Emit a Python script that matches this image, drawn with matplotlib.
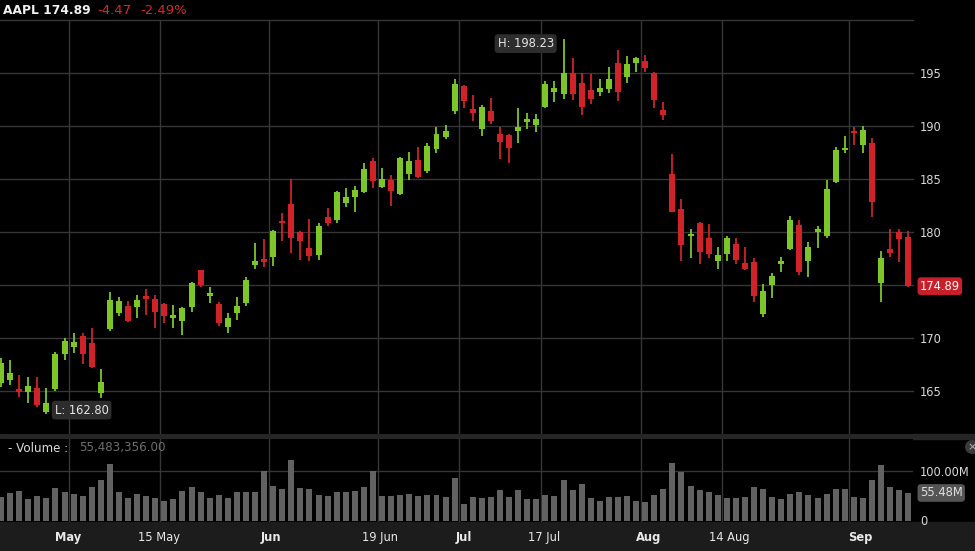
import numpy as np
import matplotlib
matplotlib.use("Agg")
import matplotlib.pyplot as plt
from matplotlib.patches import Rectangle, Circle
from matplotlib.transforms import blended_transform_factory

# daily candles, Apr 19 .. Sep 12 (101 sessions)
opens = [165.75, 166.0, 165.2, 164.9, 165.3, 163.0, 165.2, 168.5, 169.15, 170.2,
         169.5, 164.8, 170.85, 172.35, 173.0, 172.9, 173.9, 173.7, 173.2, 171.9,
         171.6, 172.9, 176.4, 174.0, 173.2, 171.0, 172.35, 173.3, 176.9, 177.45,
         177.6, 181.0, 182.65, 180.0, 178.5, 177.8, 181.4, 181.1, 182.7, 183.3,
         183.8, 186.7, 184.25, 184.9, 183.6, 185.5, 186.8, 185.75, 187.8, 188.95,
         191.4, 193.8, 191.6, 189.7, 191.4, 189.25, 189.15, 189.5, 190.4, 190.1,
         191.8, 193.2, 193.0, 195.0, 194.05, 193.4, 193.2, 193.5, 195.9, 194.6,
         195.9, 196.1, 195.0, 191.5, 185.5, 182.2, 179.6, 180.85, 179.4, 177.3,
         177.9, 178.9, 177.1, 177.2, 172.3, 175.0, 177.0, 178.4, 180.65, 177.3,
         180.0, 179.6, 184.7, 187.7, 189.5, 188.2, 188.4, 175.2, 178.4, 180.0,
         179.5]
highs = [168.1, 167.9, 166.5, 166.3, 166.3, 165.3, 168.7, 170.0, 170.5, 170.5,
         170.9, 167.1, 174.3, 173.9, 173.5, 174.1, 174.6, 174.1, 173.3, 173.1,
         172.9, 175.3, 176.45, 174.8, 173.4, 172.4, 173.9, 175.75, 179.0, 179.3,
         180.15, 181.8, 185.0, 180.1, 181.2, 180.85, 182.3, 183.9, 184.15, 184.3,
         186.5, 187.0, 186.0, 185.4, 187.1, 187.55, 188.0, 188.4, 189.9, 190.1,
         194.4, 193.85, 192.9, 192.0, 192.6, 189.9, 189.25, 191.7, 191.2, 191.1,
         194.25, 194.25, 198.23, 196.4, 195.0, 194.9, 194.4, 195.55, 197.2, 196.6,
         196.5, 196.7, 195.1, 192.25, 187.35, 183.1, 180.3, 180.9, 180.75, 178.6,
         179.6, 179.4, 178.6, 177.55, 175.1, 176.1, 177.6, 181.5, 181.1, 179.05,
         180.55, 184.9, 188.0, 189.05, 189.9, 190.0, 188.9, 178.2, 180.3, 180.3,
         180.1]
lows = [165.4, 165.6, 164.4, 163.9, 163.5, 162.8, 165.0, 167.9, 168.6, 167.5,
        167.2, 164.3, 170.7, 172.1, 171.5, 171.9, 172.2, 170.9, 171.4, 170.9,
        170.3, 172.45, 174.8, 173.3, 171.1, 170.5, 171.7, 173.0, 176.5, 176.7,
        176.8, 179.15, 178.0, 177.4, 177.3, 177.4, 180.6, 180.85, 182.35, 181.9,
        183.7, 184.15, 184.15, 182.45, 183.5, 184.9, 185.1, 185.55, 187.45, 188.8,
        191.1, 191.7, 190.5, 189.05, 190.2, 186.9, 186.5, 188.4, 189.7, 189.4,
        191.7, 192.3, 192.55, 192.45, 191.0, 192.1, 192.8, 193.1, 192.35, 194.05,
        195.1, 195.1, 191.7, 190.55, 181.85, 177.3, 177.5, 177.0, 177.5, 176.5,
        177.3, 177.0, 176.45, 173.4, 172.0, 173.8, 176.2, 178.3, 175.9, 175.75,
        178.5, 179.4, 184.6, 187.45, 188.2, 187.45, 181.4, 173.4, 177.6, 177.2,
        174.8]
closes = [167.65, 166.7, 164.9, 165.5, 163.7, 163.9, 168.5, 169.7, 169.6, 168.5,
          167.3, 165.85, 173.6, 173.5, 171.6, 173.6, 173.7, 172.45, 172.1, 172.2,
          172.8, 175.2, 175.0, 174.25, 171.4, 171.9, 173.0, 175.5, 177.3, 177.2,
          180.1, 180.85, 179.4, 179.15, 177.7, 180.6, 180.85, 183.8, 183.3, 183.95,
          185.95, 184.8, 185.0, 183.9, 187.0, 186.7, 185.2, 188.1, 189.25, 189.5,
          193.96, 192.35, 191.2, 191.8, 190.5, 188.5, 187.9, 189.9, 190.6, 190.65,
          194.0, 193.6, 195.0, 193.0, 191.8, 192.55, 193.6, 194.4, 193.2, 195.85,
          196.4, 195.5, 192.45, 191.05, 181.9, 178.8, 179.8, 178.1, 177.9, 177.8,
          179.4, 177.35, 176.5, 174.0, 174.45, 175.85, 177.25, 181.1, 176.2, 178.6,
          180.3, 184.05, 187.7, 187.9, 189.3, 189.6, 182.8, 177.55, 178.0, 179.36,
          174.89]
volumes = [48, 55, 59, 43, 50, 45, 65, 57, 54, 50, 67, 81, 114, 57, 45, 54, 50, 45,
           39, 43, 59, 67, 57, 45, 52, 45, 57, 57, 57, 100, 69, 63, 122, 65, 63, 52,
           50, 57, 57, 59, 67, 100, 50, 50, 52, 54, 50, 52, 52, 48, 86, 33, 48, 45,
           48, 61, 48, 61, 43, 43, 52, 50, 81, 61, 74, 45, 39, 48, 48, 50, 39, 37,
           52, 63, 116, 97, 69, 61, 57, 52, 45, 45, 48, 67, 63, 48, 43, 54, 57, 52,
           45, 54, 63, 63, 48, 45, 81, 112, 67, 61, 55.48]

# first session of each labelled period (index into the series)
period_start = [8, 18, 30, 42, 51, 60, 71, 80, 94]
period_labels = ["May", "15 May", "Jun", "19 Jun", "Jul", "17 Jul", "Aug", "14 Aug", "Sep"]
label_pos = [7.4, 17.4, 29.8, 41.8, 51.0, 59.9, 71.4, 80.3, 94.7]
price_ticks = [165, 170, 175, 180, 185, 190, 195]

GREEN = "#7cc62a"
RED = "#cf2329"
GRID = "#363636"
TXT = "#d8d8d8"

o = np.array(opens); h = np.array(highs); l = np.array(lows); c = np.array(closes)
x = np.arange(len(o))
up = c >= o

W, H = 975, 551
fig = plt.figure(figsize=(W / 100, H / 100), dpi=100, facecolor="black")

# background bands (behind the axes)
fig.patches.append(Rectangle((0, 0), 1, 29 / H, transform=fig.transFigure,
                             color="#1c1c1c", zorder=-2))
fig.patches.append(Rectangle((0, 1 - 439 / H), 1, 5 / H, transform=fig.transFigure,
                             color="#262626", zorder=-2))

ax = fig.add_axes([0, 1 - 434 / H, 913 / W, 414 / H])
axv = fig.add_axes([0, 1 - 522 / H, 913 / W, 83 / H])

for a in (ax, axv):
    a.set_facecolor("black")
    for s in a.spines.values():
        s.set_visible(False)
    a.set_xlim(-0.11, 100.52)
    a.set_xticks([])
    for p in period_start:
        a.axvline(p - 0.5, color=GRID, lw=1, zorder=0)

# price panel
ax.set_ylim(160.94, 200.0)
for p in price_ticks + [200]:
    ax.axhline(p, color=GRID, lw=1, zorder=0, clip_on=False)
ax.vlines(x[up], l[up], h[up], color=GREEN, lw=1.3, zorder=2)
ax.vlines(x[~up], l[~up], h[~up], color=RED, lw=1.3, zorder=2)
body_lo = np.minimum(o, c)
body_h = np.maximum(np.abs(c - o), 0.22)
ax.bar(x[up], body_h[up], 0.66, bottom=body_lo[up], color=GREEN, zorder=3)
ax.bar(x[~up], body_h[~up], 0.66, bottom=body_lo[~up], color=RED, zorder=3)

# the last-price tag takes the place of the 175 label
ax.yaxis.tick_right()
shown = [p for p in price_ticks if abs(p - c[-1]) > 1.5]
ax.set_yticks(shown)
ax.tick_params(axis="y", length=0, pad=5, labelsize=8.3, labelcolor=TXT)

# high / low callouts
ih = int(np.argmax(h)); il = int(np.argmin(l))
box = dict(boxstyle="round,pad=0.25,rounding_size=0.3", fc="#2d2d2d", ec="none")
ax.annotate(f"H: {h[ih]:.2f}", xy=(ih, h[ih]), xytext=(-7, -3.5), textcoords="offset points",
            ha="right", va="center", fontsize=8.3, color="#e6e6e6", bbox=box, zorder=5)
ax.annotate(f"L: {l[il]:.2f}", xy=(il, l[il]), xytext=(6, 3), textcoords="offset points",
            ha="left", va="center", fontsize=8.3, color="#e6e6e6", bbox=box, zorder=5)

# last price tag
ax.text(1.0075, c[-1], f"{c[-1]:.2f}", transform=blended_transform_factory(ax.transAxes, ax.transData),
        ha="left", va="center", fontsize=8.3, color="white", clip_on=False,
        bbox=dict(boxstyle="round,pad=0.2,rounding_size=0.3", fc="#c8202a", ec="none"))

# volume panel
axv.set_ylim(-2.6, 163.4)
axv.axhline(100, color=GRID, lw=1, zorder=0)
axv.bar(x, volumes, 0.66, color="#626262", zorder=2)
axv.yaxis.tick_right()
axv.set_yticks([2, 100])
axv.set_yticklabels(["0", "100.00M"])
axv.tick_params(axis="y", length=0, pad=5, labelsize=8.3, labelcolor=TXT)
axv.text(1.0075, volumes[-1], f"{volumes[-1]:.2f}M",
         transform=blended_transform_factory(axv.transAxes, axv.transData),
         ha="left", va="center", fontsize=8.3, color="#e0e0e0", clip_on=False,
         bbox=dict(boxstyle="round,pad=0.2,rounding_size=0.3", fc="#555555", ec="none"))

# date labels in bottom band
tb = blended_transform_factory(axv.transData, fig.transFigure)
for pos, lab in zip(label_pos, period_labels):
    bold = not lab[0].isdigit()
    axv.text(pos, 1 - 537 / H, lab, transform=tb, ha="center", va="center", fontsize=8.3,
             color="#e8e8e8", fontweight="bold" if bold else "normal", clip_on=False)

# header
chg = c[-1] - c[-2]
fig.text(3 / W, 1 - 10 / H, f"AAPL {c[-1]:.2f}", ha="left", va="center",
         fontsize=8.8, fontweight="bold", color="#f0f0f0")
fig.text(97 / W, 1 - 10 / H, f"{chg:.2f}", ha="left", va="center",
         fontsize=9.5, color="#d42a2a")
fig.text(140 / W, 1 - 10 / H, f"{chg / c[-2] * 100:.2f}%", ha="left", va="center",
         fontsize=9.5, color="#d42a2a")

fig.text(8 / W, 1 - 448 / H, "- Volume :", ha="left", va="center", fontsize=8.6, color="#dddddd")
fig.text(79 / W, 1 - 448 / H, "55,483,356.00", ha="left", va="center", fontsize=8.6, color="#6e6e6e")

fig.patches.append(Circle((972, H - 447), 7, transform=None, fc="#3a3a3a", ec="none", zorder=5))
fig.text(972 / W, 1 - 447 / H, "×", ha="center", va="center", fontsize=8, color="#bbbbbb", zorder=6)

fig.savefig("out.png", dpi=100, facecolor="black")
